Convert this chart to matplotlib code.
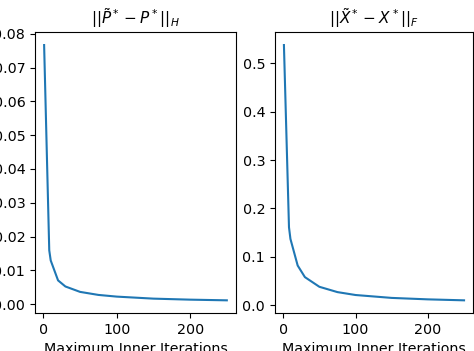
import numpy as np
import matplotlib.pyplot as plt

# maximum inner iterations and the two error measures
iters = [1, 8, 10, 20, 30, 50, 75, 100, 150, 200, 250]
err_P = [0.0767, 0.0159, 0.0129, 0.0070, 0.0052, 0.0036, 0.0027, 0.0022, 0.0016, 0.0013, 0.0011]
err_X = [0.538, 0.161, 0.137, 0.082, 0.058, 0.038, 0.027, 0.021, 0.015, 0.012, 0.010]

fig = plt.figure(figsize=(4.74, 3.51), dpi=100)

ax1 = fig.add_axes([0.0738, 0.108, 0.424, 0.80])
ax1.plot(iters, err_P)
ax1.set_title(r'$||\tilde{P}^* - P^*||_H$', fontsize=11)
ax1.set_xlabel('Maximum Inner Iterations', fontsize=10.3)
ax1.set_yticks(np.arange(0, 0.081, 0.01))
ax1.tick_params(labelsize=10.3)

ax2 = fig.add_axes([0.580, 0.108, 0.418, 0.80])
ax2.plot(iters, err_X)
ax2.set_title(r'$||\tilde{X}^* - X^*||_F$', fontsize=11)
ax2.set_xlabel('Maximum Inner Iterations', fontsize=10.3)
ax2.tick_params(labelsize=10.3)

fig.savefig('out.png', dpi=100)
